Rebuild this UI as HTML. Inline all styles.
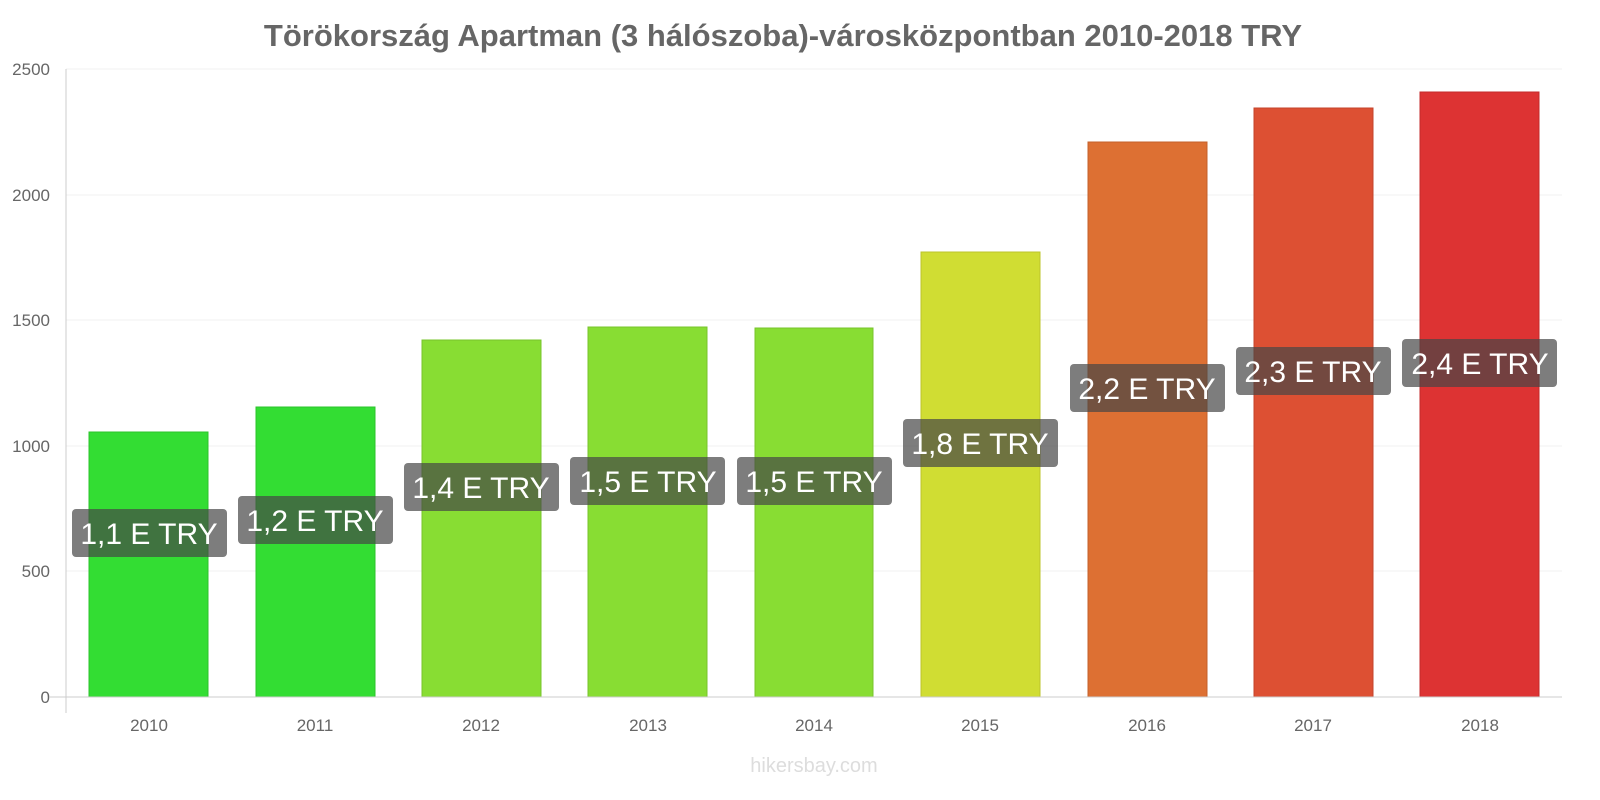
<!DOCTYPE html>
<html><head><meta charset="utf-8"><style>
html,body{margin:0;padding:0;background:#fff;overflow:hidden;width:1600px;height:800px;}
svg{display:block;}
svg text{font-family:"Liberation Sans",sans-serif;}
</style></head><body>
<svg width="1600" height="800" xmlns="http://www.w3.org/2000/svg">
<text x="783" y="46" text-anchor="middle" font-size="31" font-weight="bold" fill="#666">Törökország Apartman (3 hálószoba)-városközpontban 2010-2018 TRY</text>
<g stroke="#f2f2f2" stroke-width="1">
<line x1="66" y1="69" x2="1562" y2="69"/><line x1="66" y1="195" x2="1562" y2="195"/><line x1="66" y1="320" x2="1562" y2="320"/><line x1="66" y1="446" x2="1562" y2="446"/><line x1="66" y1="571" x2="1562" y2="571"/>
</g>
<g font-size="17" fill="#666" text-anchor="end">
<text x="50" y="75">2500</text><text x="50" y="201">2000</text><text x="50" y="326">1500</text><text x="50" y="452">1000</text><text x="50" y="577">500</text><text x="50" y="703">0</text>
</g>
<g stroke-width="1">
<rect x="89" y="432" width="119" height="265" fill="#33dd33" stroke="#2bc42b"/>
<rect x="256" y="407" width="119" height="290" fill="#33dd33" stroke="#2bc42b"/>
<rect x="422" y="340" width="119" height="357" fill="#88dd33" stroke="#77c42b"/>
<rect x="588" y="327" width="119" height="370" fill="#88dd33" stroke="#77c42b"/>
<rect x="755" y="328" width="118" height="369" fill="#88dd33" stroke="#77c42b"/>
<rect x="921" y="252" width="119" height="445" fill="#d0dd33" stroke="#bcc42b"/>
<rect x="1088" y="142" width="119" height="555" fill="#dd7033" stroke="#c4602b"/>
<rect x="1254" y="108" width="119" height="589" fill="#dd5033" stroke="#c4432b"/>
<rect x="1420" y="92" width="119" height="605" fill="#dd3333" stroke="#c42b2b"/>
</g>
<line x1="66" y1="69" x2="66" y2="713" stroke="#ccc"/>
<line x1="50" y1="697" x2="1562" y2="697" stroke="#ccc"/>
<g font-size="17" fill="#666" text-anchor="middle">
<text x="149" y="731">2010</text><text x="315" y="731">2011</text><text x="481" y="731">2012</text><text x="648" y="731">2013</text><text x="814" y="731">2014</text><text x="980" y="731">2015</text><text x="1147" y="731">2016</text><text x="1313" y="731">2017</text><text x="1480" y="731">2018</text>
</g>
<g fill="rgba(70,70,70,0.7)">
<rect x="72" y="509" width="155" height="48" rx="4"/>
<rect x="238" y="496" width="155" height="48" rx="4"/>
<rect x="404" y="463" width="155" height="48" rx="4"/>
<rect x="570" y="457" width="155" height="48" rx="4"/>
<rect x="737" y="457" width="155" height="48" rx="4"/>
<rect x="903" y="419" width="155" height="48" rx="4"/>
<rect x="1070" y="364" width="155" height="48" rx="4"/>
<rect x="1236" y="347" width="155" height="48" rx="4"/>
<rect x="1402" y="339" width="155" height="48" rx="4"/>
</g>
<g font-size="30" fill="#fff" text-anchor="middle">
<text x="149" y="544">1,1 E TRY</text>
<text x="315" y="531">1,2 E TRY</text>
<text x="481" y="498">1,4 E TRY</text>
<text x="648" y="492">1,5 E TRY</text>
<text x="814" y="492">1,5 E TRY</text>
<text x="980" y="454">1,8 E TRY</text>
<text x="1147" y="399">2,2 E TRY</text>
<text x="1313" y="382">2,3 E TRY</text>
<text x="1480" y="374">2,4 E TRY</text>
</g>
<text x="814" y="772" text-anchor="middle" font-size="20" fill="#ddd">hikersbay.com</text>
</svg>
</body></html>
